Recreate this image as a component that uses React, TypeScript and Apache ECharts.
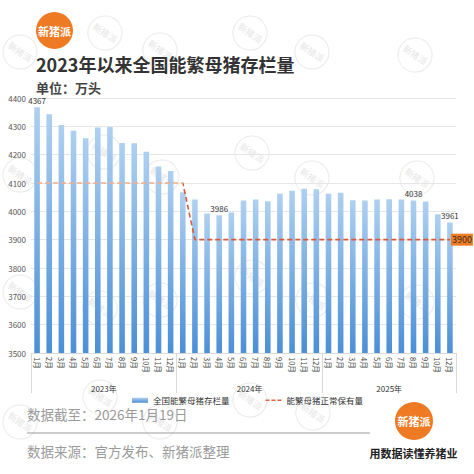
import React, { useEffect, useRef } from "react";
import * as echarts from "echarts";

const months2023 = ["1月", "2月", "3月", "4月", "5月", "6月", "7月", "8月", "9月", "10月", "11月", "12月"];
const months2024 = ["1月", "2月", "3月", "4月", "5月", "6月", "7月", "8月", "9月", "10月", "11月", "12月"];
const months2025 = ["1月", "2月", "3月", "4月", "5月", "6月", "7月", "8月", "9月", "10月", "12月"];
const yearLabels = ["2023年", "2024年", "2025年"];

const values2023 = [4367, 4343, 4305, 4284, 4258, 4296, 4298, 4241, 4240, 4210, 4158, 4142];
const values2024 = [4067, 4042, 3992, 3986, 3996, 4038, 4042, 4036, 4062, 4073, 4080, 4078];
const values2025 = [4062, 4066, 4039, 4038, 4042, 4043, 4042, 4038, 4035, 3990, 3961];

const normalLevel = [
  4100, 4100, 4100, 4100, 4100, 4100, 4100, 4100, 4100, 4100, 4100, 4100, 4100,
  3900, 3900, 3900, 3900, 3900, 3900, 3900, 3900, 3900, 3900, 3900,
  3900, 3900, 3900, 3900, 3900, 3900, 3900, 3900, 3900, 3900, 3900,
];

const labelledIndices = [0, 15, 31, 34];

const yTicks = { min: 3500, max: 4400, interval: 100 };

const seriesNames = ["全国能繁母猪存栏量", "能繁母猪正常保有量"];

const FONT = '"Noto Sans CJK SC", "Noto Sans", sans-serif';

const watermarkSpots = [
  [20, 52], [105, 33], [160, 50], [250, 33], [312, 52], [415, 55],
  [20, 175], [104, 152], [162, 177], [252, 153], [312, 178], [417, 178],
  [20, 292], [100, 308], [160, 300], [252, 277], [313, 300], [417, 302],
  [20, 422], [100, 397], [250, 400], [313, 413], [160, 422],
];

export default function App() {
  const ref = useRef<HTMLDivElement>(null);

  useEffect(() => {
    if (!ref.current) return;
    const chart = echarts.init(ref.current, null, { renderer: "svg" });

    const categories = [...months2023, ...months2024, ...months2025];
    const values = [...values2023, ...values2024, ...values2025];
    const groups = [months2023.length, months2024.length, months2025.length];
    const boundaries: number[] = [-0.5];
    const centers: number[] = [];
    let acc = 0;
    groups.forEach((g) => {
      centers.push(acc + (g - 1) / 2);
      acc += g;
      boundaries.push(acc - 0.5);
    });
    const n = categories.length;

    const barData = values.map((v, i) => ({
      value: v,
      label: { show: labelledIndices.includes(i) },
    }));

    const watermarks = watermarkSpots.map(([x, y]) => ({
      type: "group",
      x,
      y,
      rotation: -0.6,
      z: 100,
      silent: true,
      children: [
        {
          type: "circle",
          shape: { cx: 0, cy: 0, r: 17 },
          style: { fill: "none", stroke: "rgba(150,150,150,0.2)", lineWidth: 1 },
        },
        {
          type: "text",
          x: 0,
          y: 0,
          style: {
            text: "新猪派",
            fill: "rgba(150,150,150,0.2)",
            font: `bold 9px ${FONT}`,
            textAlign: "center",
            textVerticalAlign: "middle",
            align: "center",
            verticalAlign: "middle",
          },
        },
      ],
    }));

    const logo = (cx: number, cy: number, r: number, fs: number) => ({
      type: "group",
      x: cx,
      y: cy,
      children: [
        {
          type: "circle",
          shape: { cx: 0, cy: 0, r },
          style: { fill: "#ee7a24" },
        },
        {
          type: "text",
          x: 0,
          y: 0,
          style: {
            text: "新猪派",
            fill: "#ffffff",
            font: `bold ${fs}px ${FONT}`,
            textAlign: "center",
            textVerticalAlign: "middle",
            align: "center",
            verticalAlign: "middle",
          },
        },
      ],
    });

    const txt = (text: string, x: number, y: number, font: string, fill: string) => ({
      type: "text",
      x,
      y,
      style: {
        text,
        fill,
        font,
        textAlign: "left",
        textVerticalAlign: "middle",
        align: "left",
        verticalAlign: "middle",
      },
    });

    chart.setOption({
      animation: false,
      backgroundColor: "#ffffff",
      textStyle: { fontFamily: FONT },
      grid: { left: 31, right: 18, top: 98, bottom: 121, containLabel: false },
      legend: {
        left: 127,
        top: 391,
        itemWidth: 16,
        itemHeight: 5,
        itemGap: 36,
        textStyle: { fontSize: 8.5, color: "#333", fontFamily: FONT },
        data: [
          { name: seriesNames[0], icon: "rect" },
          {
            name: seriesNames[1],
            icon: "path://M0,0h4v1.5h-4zM6,0h4v1.5h-4zM12,0h4v1.5h-4z",
            itemStyle: { color: "#e0603c" },
          },
        ],
      },
      xAxis: [
        {
          type: "category",
          data: categories,
          axisLine: { show: true, lineStyle: { color: "#d9d9d9" } },
          axisTick: { show: false },
          axisLabel: {
            interval: 0,
            rotate: -90,
            fontSize: 7.5,
            color: "#444",
            margin: 4,
            fontFamily: FONT,
          },
        },
        {
          type: "value",
          min: -0.5,
          max: n - 0.5,
          position: "bottom",
          axisLine: { show: false },
          splitLine: { show: false },
          axisTick: {
            show: true,
            customValues: boundaries,
            length: 40,
            lineStyle: { color: "#d9d9d9" },
          },
          axisLabel: {
            show: true,
            customValues: centers,
            margin: 31,
            fontSize: 8,
            color: "#333",
            fontFamily: FONT,
            formatter: (v: number) => {
              const idx = centers.findIndex((c) => Math.abs(c - v) < 0.01);
              return idx >= 0 ? yearLabels[idx] : "";
            },
          },
        },
      ],
      yAxis: {
        type: "value",
        min: yTicks.min,
        max: yTicks.max,
        interval: yTicks.interval,
        axisLine: { show: false },
        axisTick: { show: false },
        splitLine: { lineStyle: { color: "#e6e6e6" } },
        axisLabel: {
          fontSize: 8,
          color: "#555",
          margin: 5,
          fontFamily: FONT,
          formatter: (v: number) => String(v),
        },
      },
      series: [
        {
          name: seriesNames[0],
          type: "bar",
          xAxisIndex: 0,
          data: barData,
          barWidth: "46%",
          itemStyle: {
            color: new echarts.graphic.LinearGradient(0, 0, 0, 1, [
              { offset: 0, color: "#aed0f1" },
              { offset: 1, color: "#4b8fd6" },
            ]),
          },
          label: {
            position: "top",
            distance: 3,
            fontSize: 8,
            color: "#333",
            fontFamily: FONT,
          },
        },
        {
          name: seriesNames[1],
          type: "line",
          xAxisIndex: 0,
          data: normalLevel,
          symbol: "none",
          z: 5,
          lineStyle: {
            type: [5, 3],
            width: 1.6,
            color: new echarts.graphic.LinearGradient(0, 0, 1, 0, [
              { offset: 0, color: "#f5ad88" },
              { offset: 0.352, color: "#f5ad88" },
              { offset: 0.354, color: "#d85a3a" },
              { offset: 1, color: "#d85a3a" },
            ]),
          },
          itemStyle: { color: "#e0603c" },
          endLabel: {
            show: true,
            distance: 1,
            formatter: (p: any) => String(p.value),
            backgroundColor: "#f07c26",
            color: "#3a2a1a",
            fontSize: 9,
            padding: [2, 1, 1, 1],
            fontFamily: FONT,
          },
        },
      ],
      graphic: [
        logo(54.5, 30.5, 18.5, 11),
        txt("2023年以来全国能繁母猪存栏量", 36, 64, `bold 18px ${FONT}`, "#333333"),
        txt("单位：万头", 36, 87, `bold 13px ${FONT}`, "#444444"),
        txt("数据截至：2026年1月19日", 27, 414, `13.5px ${FONT}`, "#9a9a9a"),
        {
          type: "line",
          shape: { x1: 27, y1: 433, x2: 370, y2: 433 },
          style: { stroke: "#bdbdbd", lineWidth: 1.5 },
        },
        txt("数据来源：官方发布、新猪派整理", 27, 451, `13.5px ${FONT}`, "#9a9a9a"),
        logo(414, 421, 19, 11),
        {
          type: "text",
          x: 413.5,
          y: 453,
          style: {
            text: "用数据读懂养猪业",
            fill: "#222",
            font: `bold 11px ${FONT}`,
            textAlign: "center",
            textVerticalAlign: "middle",
            align: "center",
            verticalAlign: "middle",
          },
        },
        ...watermarks,
      ],
    });

    return () => chart.dispose();
  }, []);

  return (
    <div
      ref={ref}
      style={{ position: "fixed", left: 0, top: 0, width: 474, height: 474, background: "#fff" }}
    />
  );
}
